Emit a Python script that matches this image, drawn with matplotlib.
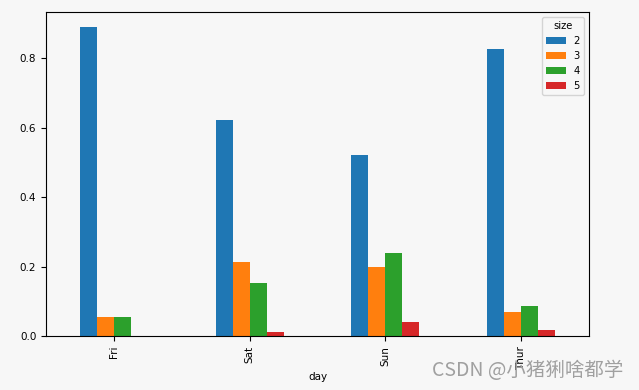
import matplotlib
matplotlib.use("Agg")
import matplotlib.pyplot as plt
import numpy as np

days = ["Fri", "Sat", "Sun", "Thur"]
sizes = ["2", "3", "4", "5"]
size2 = [0.888889, 0.623529, 0.520000, 0.827586]
size3 = [0.055556, 0.211765, 0.200000, 0.068966]
size4 = [0.055556, 0.152941, 0.240000, 0.086207]
size5 = [0.000000, 0.011765, 0.040000, 0.017241]
series = [size2, size3, size4, size5]
colors = ["#1f77b4", "#ff7f0e", "#2ca02c", "#d62728"]

bg = "#f7f7f7"
fig = plt.figure(figsize=(6.39, 3.90), dpi=100, facecolor=bg)
ax = fig.add_axes([46 / 639, 54 / 390, 543 / 639, 324 / 390], facecolor=bg)

x = np.arange(len(days))
w = 0.5 / len(sizes)
for i, (s, c, lab) in enumerate(zip(series, colors, sizes)):
    ax.bar(x + (i - 1.5) * w, s, width=w, color=c, label=lab)

ax.set_xlim(-0.5, len(days) - 0.5)
ax.set_xticks(x)
ax.set_xticklabels(days, rotation=90, fontsize=7.5)
ax.tick_params(axis="y", labelsize=7.5)
ax.set_yticks([0.0, 0.2, 0.4, 0.6, 0.8])
ax.set_xlabel("day", fontsize=7.5, labelpad=2)
leg = ax.legend(title="size", fontsize=7.2, title_fontsize=7.2, loc="upper right",
                facecolor=bg)

fig.text(0.975, 0.05, "CSDN @小猪猁啥都学", fontsize=14, color="#a0a0a0",
         ha="right", va="center", family=["Noto Sans CJK SC", "DejaVu Sans"])

fig.savefig("out.png", dpi=100, facecolor=bg)
